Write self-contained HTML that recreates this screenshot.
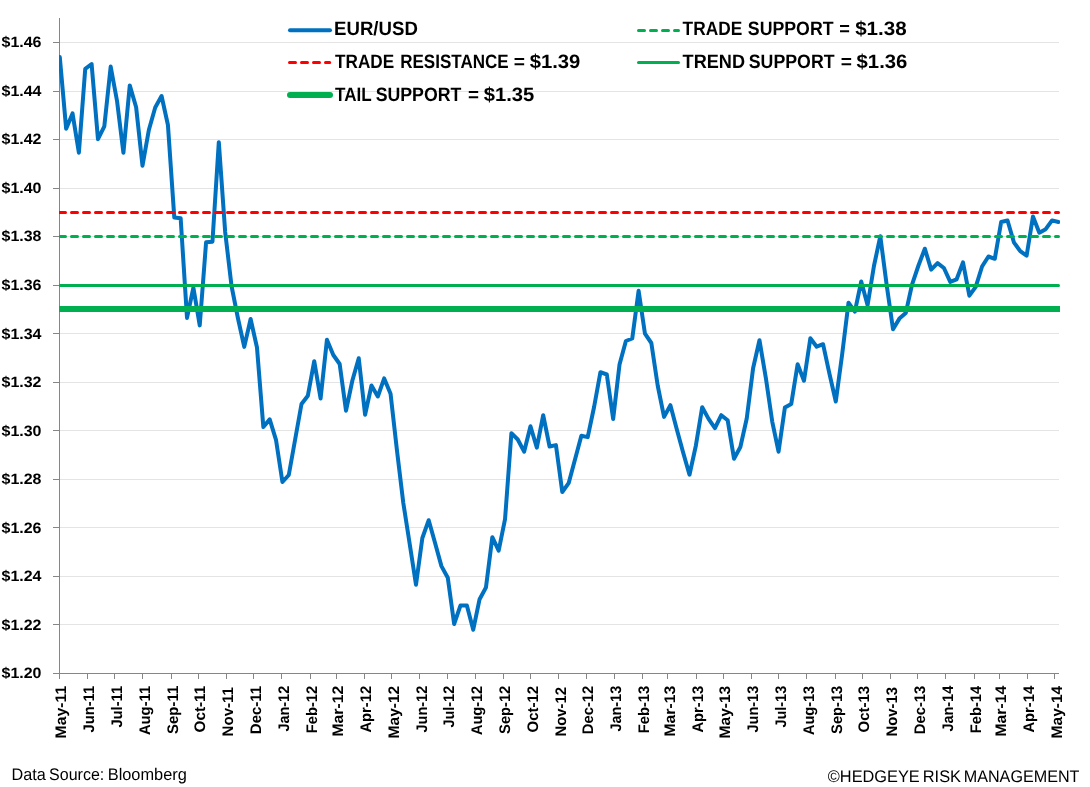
<!DOCTYPE html>
<html lang="en"><head><meta charset="utf-8"><title>EUR/USD</title>
<style>html,body{margin:0;padding:0;background:#fff}body{width:1090px;height:787px;overflow:hidden}svg{display:block}text{font-family:"Liberation Sans",Arial,sans-serif;fill:#000}.b{font-weight:bold}.ax{font-size:15px;font-weight:bold;text-rendering:geometricPrecision}.xl{font-size:15.3px;font-weight:bold;text-rendering:geometricPrecision}.lg{font-size:19.4px;font-weight:bold;text-rendering:geometricPrecision}.ft{font-size:16.8px;text-rendering:geometricPrecision}</style></head><body>
<svg width="1090" height="787" viewBox="0 0 1090 787">
<rect width="1090" height="787" fill="#fff"/>
<g stroke="#e4e4e4" stroke-width="1" shape-rendering="crispEdges">
<line x1="60" x2="1059" y1="624.5" y2="624.5"/>
<line x1="60" x2="1059" y1="576.5" y2="576.5"/>
<line x1="60" x2="1059" y1="527.5" y2="527.5"/>
<line x1="60" x2="1059" y1="479.5" y2="479.5"/>
<line x1="60" x2="1059" y1="430.5" y2="430.5"/>
<line x1="60" x2="1059" y1="382.5" y2="382.5"/>
<line x1="60" x2="1059" y1="333.5" y2="333.5"/>
<line x1="60" x2="1059" y1="285.5" y2="285.5"/>
<line x1="60" x2="1059" y1="236.5" y2="236.5"/>
<line x1="60" x2="1059" y1="188.5" y2="188.5"/>
<line x1="60" x2="1059" y1="139.5" y2="139.5"/>
<line x1="60" x2="1059" y1="91.5" y2="91.5"/>
<line x1="60" x2="1059" y1="42.5" y2="42.5"/>
</g>
<g stroke="#868686" stroke-width="1" shape-rendering="crispEdges">
<line x1="59.5" x2="59.5" y1="18" y2="674"/>
<line x1="53" x2="1059" y1="673.5" y2="673.5"/>
<line x1="53" x2="60" y1="624.5" y2="624.5"/>
<line x1="53" x2="60" y1="576.5" y2="576.5"/>
<line x1="53" x2="60" y1="527.5" y2="527.5"/>
<line x1="53" x2="60" y1="479.5" y2="479.5"/>
<line x1="53" x2="60" y1="430.5" y2="430.5"/>
<line x1="53" x2="60" y1="382.5" y2="382.5"/>
<line x1="53" x2="60" y1="333.5" y2="333.5"/>
<line x1="53" x2="60" y1="285.5" y2="285.5"/>
<line x1="53" x2="60" y1="236.5" y2="236.5"/>
<line x1="53" x2="60" y1="188.5" y2="188.5"/>
<line x1="53" x2="60" y1="139.5" y2="139.5"/>
<line x1="53" x2="60" y1="91.5" y2="91.5"/>
<line x1="53" x2="60" y1="42.5" y2="42.5"/>
<line x1="59.5" x2="59.5" y1="673" y2="679"/>
<line x1="87.5" x2="87.5" y1="673" y2="679"/>
<line x1="114.5" x2="114.5" y1="673" y2="679"/>
<line x1="142.5" x2="142.5" y1="673" y2="679"/>
<line x1="171.5" x2="171.5" y1="673" y2="679"/>
<line x1="198.5" x2="198.5" y1="673" y2="679"/>
<line x1="226.5" x2="226.5" y1="673" y2="679"/>
<line x1="253.5" x2="253.5" y1="673" y2="679"/>
<line x1="281.5" x2="281.5" y1="673" y2="679"/>
<line x1="310.5" x2="310.5" y1="673" y2="679"/>
<line x1="336.5" x2="336.5" y1="673" y2="679"/>
<line x1="364.5" x2="364.5" y1="673" y2="679"/>
<line x1="391.5" x2="391.5" y1="673" y2="679"/>
<line x1="419.5" x2="419.5" y1="673" y2="679"/>
<line x1="447.5" x2="447.5" y1="673" y2="679"/>
<line x1="475.5" x2="475.5" y1="673" y2="679"/>
<line x1="503.5" x2="503.5" y1="673" y2="679"/>
<line x1="530.5" x2="530.5" y1="673" y2="679"/>
<line x1="558.5" x2="558.5" y1="673" y2="679"/>
<line x1="586.5" x2="586.5" y1="673" y2="679"/>
<line x1="614.5" x2="614.5" y1="673" y2="679"/>
<line x1="642.5" x2="642.5" y1="673" y2="679"/>
<line x1="667.5" x2="667.5" y1="673" y2="679"/>
<line x1="696.5" x2="696.5" y1="673" y2="679"/>
<line x1="723.5" x2="723.5" y1="673" y2="679"/>
<line x1="751.5" x2="751.5" y1="673" y2="679"/>
<line x1="778.5" x2="778.5" y1="673" y2="679"/>
<line x1="806.5" x2="806.5" y1="673" y2="679"/>
<line x1="835.5" x2="835.5" y1="673" y2="679"/>
<line x1="862.5" x2="862.5" y1="673" y2="679"/>
<line x1="890.5" x2="890.5" y1="673" y2="679"/>
<line x1="917.5" x2="917.5" y1="673" y2="679"/>
<line x1="945.5" x2="945.5" y1="673" y2="679"/>
<line x1="974.5" x2="974.5" y1="673" y2="679"/>
<line x1="999.5" x2="999.5" y1="673" y2="679"/>
<line x1="1027.5" x2="1027.5" y1="673" y2="679"/>
<line x1="1054.5" x2="1054.5" y1="673" y2="679"/>
</g>
<defs><clipPath id="pc"><rect x="59" y="10" width="1001" height="670"/></clipPath></defs>
<polyline clip-path="url(#pc)" points="59.80,57.10 66.16,128.70 72.52,113.40 78.88,152.70 85.24,68.80 91.60,64.00 97.96,139.20 104.32,126.30 110.68,66.60 117.04,101.00 123.41,152.70 129.77,85.40 136.13,107.30 142.49,165.70 148.85,130.00 155.21,107.50 161.57,96.00 167.93,125.00 174.29,217.50 180.65,218.20 187.01,317.90 193.37,287.70 199.73,325.40 206.09,242.30 212.45,241.70 218.81,142.20 225.17,232.00 231.53,286.00 237.89,318.00 244.25,346.90 250.62,319.00 256.98,347.50 263.34,427.00 269.70,419.40 276.06,440.20 282.42,482.00 288.78,475.00 295.14,439.50 301.50,404.00 307.86,395.70 314.22,361.20 320.58,398.50 326.94,339.80 333.30,355.00 339.66,364.00 346.02,410.70 352.38,380.50 358.74,358.20 365.10,414.70 371.46,385.50 377.83,396.50 384.19,378.40 390.55,393.70 396.91,450.00 403.27,502.70 409.63,543.50 415.99,584.70 422.35,538.00 428.71,520.20 435.07,543.00 441.43,566.10 447.79,577.80 454.15,624.00 460.51,605.40 466.87,605.40 473.23,629.70 479.59,599.20 485.95,587.50 492.31,537.20 498.68,550.70 505.04,519.20 511.40,433.20 517.76,439.50 524.12,451.70 530.48,426.20 536.84,447.70 543.20,415.20 549.56,446.50 555.92,445.10 562.28,492.00 568.64,483.20 575.00,459.50 581.36,435.70 587.72,437.10 594.08,407.00 600.44,372.20 606.80,374.50 613.16,418.90 619.52,364.60 625.89,341.00 632.25,338.50 638.61,290.70 644.97,333.70 651.33,343.00 657.69,385.50 664.05,416.90 670.41,405.20 676.77,429.20 683.13,452.60 689.49,474.70 695.85,445.70 702.21,407.20 708.57,418.90 714.93,428.10 721.29,415.20 727.65,420.20 734.01,458.70 740.37,447.00 746.74,418.50 753.10,368.20 759.46,340.20 765.82,377.80 772.18,421.30 778.54,451.70 784.90,407.50 791.26,403.90 797.62,364.20 803.98,380.70 810.34,338.20 816.70,346.70 823.06,344.20 829.42,373.70 835.78,401.50 842.14,354.40 848.50,302.70 854.86,311.70 861.22,281.50 867.58,305.20 873.95,266.00 880.31,236.20 886.67,285.00 893.03,329.20 899.39,318.60 905.75,313.10 912.11,284.30 918.47,265.50 924.83,248.70 931.19,269.70 937.55,263.20 943.91,268.00 950.27,281.90 956.63,279.30 962.99,262.40 969.35,295.70 975.71,286.80 982.07,266.50 988.43,256.50 994.79,258.80 1001.16,222.00 1007.52,220.50 1013.88,242.30 1020.24,251.20 1026.60,255.70 1032.96,216.50 1039.32,232.70 1045.68,229.20 1052.04,220.40 1058.40,222.00" fill="none" stroke="#0070c0" stroke-width="4" stroke-linejoin="round" stroke-linecap="round"/>
<g clip-path="url(#pc)">
<line x1="59.5" x2="1058.5" y1="236.45" y2="236.45" stroke="#00b050" stroke-width="3" stroke-dasharray="6 6" stroke-linecap="round"/>
<line x1="59.5" x2="1058.5" y1="212.6" y2="212.6" stroke="#ff0000" stroke-width="3" stroke-dasharray="6 6" stroke-linecap="round"/>
<line x1="59.5" x2="1058.5" y1="285.4" y2="285.4" stroke="#00b050" stroke-width="3" stroke-linecap="round"/>
<line x1="59.5" x2="1059.0" y1="309.0" y2="309.0" stroke="#00b050" stroke-width="6" stroke-linecap="round"/>
</g>
<g class="ax">
<text x="1.5" y="678.35" textLength="40" lengthAdjust="spacingAndGlyphs">$1.20</text>
<text x="1.5" y="629.81" textLength="40" lengthAdjust="spacingAndGlyphs">$1.22</text>
<text x="1.5" y="581.27" textLength="40" lengthAdjust="spacingAndGlyphs">$1.24</text>
<text x="1.5" y="532.73" textLength="40" lengthAdjust="spacingAndGlyphs">$1.26</text>
<text x="1.5" y="484.19" textLength="40" lengthAdjust="spacingAndGlyphs">$1.28</text>
<text x="1.5" y="435.65" textLength="40" lengthAdjust="spacingAndGlyphs">$1.30</text>
<text x="1.5" y="387.11" textLength="40" lengthAdjust="spacingAndGlyphs">$1.32</text>
<text x="1.5" y="338.57" textLength="40" lengthAdjust="spacingAndGlyphs">$1.34</text>
<text x="1.5" y="290.03" textLength="40" lengthAdjust="spacingAndGlyphs">$1.36</text>
<text x="1.5" y="241.49" textLength="40" lengthAdjust="spacingAndGlyphs">$1.38</text>
<text x="1.5" y="192.95" textLength="40" lengthAdjust="spacingAndGlyphs">$1.40</text>
<text x="1.5" y="144.41" textLength="40" lengthAdjust="spacingAndGlyphs">$1.42</text>
<text x="1.5" y="95.87" textLength="40" lengthAdjust="spacingAndGlyphs">$1.44</text>
<text x="1.5" y="47.33" textLength="40" lengthAdjust="spacingAndGlyphs">$1.46</text>
</g>
<g class="xl">
<text transform="translate(66.1,685.8) rotate(-90)" x="-52.6" y="0" textLength="52.6" lengthAdjust="spacingAndGlyphs">May-11</text>
<text transform="translate(94.1,685.8) rotate(-90)" x="-46.7" y="0" textLength="46.7" lengthAdjust="spacingAndGlyphs">Jun-11</text>
<text transform="translate(122.1,685.8) rotate(-90)" x="-41.8" y="0" textLength="41.8" lengthAdjust="spacingAndGlyphs">Jul-11</text>
<text transform="translate(150.1,685.8) rotate(-90)" x="-49.3" y="0" textLength="49.3" lengthAdjust="spacingAndGlyphs">Aug-11</text>
<text transform="translate(178.1,685.8) rotate(-90)" x="-48.1" y="0" textLength="48.1" lengthAdjust="spacingAndGlyphs">Sep-11</text>
<text transform="translate(205.1,685.8) rotate(-90)" x="-46.7" y="0" textLength="46.7" lengthAdjust="spacingAndGlyphs">Oct-11</text>
<text transform="translate(233.1,687.0) rotate(-90)" x="-49.4" y="0" textLength="49.4" lengthAdjust="spacingAndGlyphs">Nov-11</text>
<text transform="translate(261.1,685.8) rotate(-90)" x="-48.4" y="0" textLength="48.4" lengthAdjust="spacingAndGlyphs">Dec-11</text>
<text transform="translate(289.1,685.8) rotate(-90)" x="-45.8" y="0" textLength="45.8" lengthAdjust="spacingAndGlyphs">Jan-12</text>
<text transform="translate(317.1,685.8) rotate(-90)" x="-47.4" y="0" textLength="47.4" lengthAdjust="spacingAndGlyphs">Feb-12</text>
<text transform="translate(343.1,685.8) rotate(-90)" x="-50.8" y="0" textLength="50.8" lengthAdjust="spacingAndGlyphs">Mar-12</text>
<text transform="translate(371.1,685.8) rotate(-90)" x="-46.8" y="0" textLength="46.8" lengthAdjust="spacingAndGlyphs">Apr-12</text>
<text transform="translate(399.1,685.8) rotate(-90)" x="-52.6" y="0" textLength="52.6" lengthAdjust="spacingAndGlyphs">May-12</text>
<text transform="translate(427.1,685.8) rotate(-90)" x="-46.7" y="0" textLength="46.7" lengthAdjust="spacingAndGlyphs">Jun-12</text>
<text transform="translate(454.1,685.8) rotate(-90)" x="-41.8" y="0" textLength="41.8" lengthAdjust="spacingAndGlyphs">Jul-12</text>
<text transform="translate(482.1,685.8) rotate(-90)" x="-49.3" y="0" textLength="49.3" lengthAdjust="spacingAndGlyphs">Aug-12</text>
<text transform="translate(510.1,685.8) rotate(-90)" x="-48.1" y="0" textLength="48.1" lengthAdjust="spacingAndGlyphs">Sep-12</text>
<text transform="translate(538.1,685.8) rotate(-90)" x="-46.7" y="0" textLength="46.7" lengthAdjust="spacingAndGlyphs">Oct-12</text>
<text transform="translate(566.1,687.0) rotate(-90)" x="-49.4" y="0" textLength="49.4" lengthAdjust="spacingAndGlyphs">Nov-12</text>
<text transform="translate(593.1,685.8) rotate(-90)" x="-48.4" y="0" textLength="48.4" lengthAdjust="spacingAndGlyphs">Dec-12</text>
<text transform="translate(621.1,685.8) rotate(-90)" x="-45.8" y="0" textLength="45.8" lengthAdjust="spacingAndGlyphs">Jan-13</text>
<text transform="translate(649.1,685.8) rotate(-90)" x="-47.4" y="0" textLength="47.4" lengthAdjust="spacingAndGlyphs">Feb-13</text>
<text transform="translate(675.1,685.8) rotate(-90)" x="-50.8" y="0" textLength="50.8" lengthAdjust="spacingAndGlyphs">Mar-13</text>
<text transform="translate(703.1,685.8) rotate(-90)" x="-46.8" y="0" textLength="46.8" lengthAdjust="spacingAndGlyphs">Apr-13</text>
<text transform="translate(730.1,685.8) rotate(-90)" x="-52.6" y="0" textLength="52.6" lengthAdjust="spacingAndGlyphs">May-13</text>
<text transform="translate(758.1,685.8) rotate(-90)" x="-46.7" y="0" textLength="46.7" lengthAdjust="spacingAndGlyphs">Jun-13</text>
<text transform="translate(786.1,685.8) rotate(-90)" x="-41.8" y="0" textLength="41.8" lengthAdjust="spacingAndGlyphs">Jul-13</text>
<text transform="translate(814.1,685.8) rotate(-90)" x="-49.3" y="0" textLength="49.3" lengthAdjust="spacingAndGlyphs">Aug-13</text>
<text transform="translate(842.1,685.8) rotate(-90)" x="-48.1" y="0" textLength="48.1" lengthAdjust="spacingAndGlyphs">Sep-13</text>
<text transform="translate(869.1,685.8) rotate(-90)" x="-46.7" y="0" textLength="46.7" lengthAdjust="spacingAndGlyphs">Oct-13</text>
<text transform="translate(897.1,687.0) rotate(-90)" x="-49.4" y="0" textLength="49.4" lengthAdjust="spacingAndGlyphs">Nov-13</text>
<text transform="translate(925.1,685.8) rotate(-90)" x="-48.4" y="0" textLength="48.4" lengthAdjust="spacingAndGlyphs">Dec-13</text>
<text transform="translate(953.1,685.8) rotate(-90)" x="-45.8" y="0" textLength="45.8" lengthAdjust="spacingAndGlyphs">Jan-14</text>
<text transform="translate(981.1,685.8) rotate(-90)" x="-47.4" y="0" textLength="47.4" lengthAdjust="spacingAndGlyphs">Feb-14</text>
<text transform="translate(1006.1,685.8) rotate(-90)" x="-50.8" y="0" textLength="50.8" lengthAdjust="spacingAndGlyphs">Mar-14</text>
<text transform="translate(1034.1,685.8) rotate(-90)" x="-46.8" y="0" textLength="46.8" lengthAdjust="spacingAndGlyphs">Apr-14</text>
<text transform="translate(1062.1,685.8) rotate(-90)" x="-52.6" y="0" textLength="52.6" lengthAdjust="spacingAndGlyphs">May-14</text>
</g>
<line x1="290" x2="330" y1="30.2" y2="30.2" stroke="#0070c0" stroke-width="4" stroke-linecap="round"/>
<text class="lg" y="35.4"><tspan x="334.04" textLength="83.82" lengthAdjust="spacingAndGlyphs">EUR/USD</tspan></text>
<line x1="289.5" x2="329.7" y1="62.6" y2="62.6" stroke="#ff0000" stroke-width="3" stroke-linecap="round" stroke-dasharray="6 6"/>
<text class="lg" y="68.3"><tspan x="335.09" textLength="59.15" lengthAdjust="spacingAndGlyphs">TRADE</tspan> <tspan x="400.24" textLength="108.41" lengthAdjust="spacingAndGlyphs">RESISTANCE</tspan> <tspan x="513.8" textLength="11.19" lengthAdjust="spacingAndGlyphs">=</tspan> <tspan x="529.68" textLength="50.73" lengthAdjust="spacingAndGlyphs">$1.39</tspan></text>
<line x1="290" x2="330" y1="95" y2="95" stroke="#00b050" stroke-width="6" stroke-linecap="round"/>
<text class="lg" y="101.3"><tspan x="335.1" textLength="36.32" lengthAdjust="spacingAndGlyphs">TAIL</tspan> <tspan x="375.66" textLength="85.67" lengthAdjust="spacingAndGlyphs">SUPPORT</tspan> <tspan x="468.11" textLength="10.95" lengthAdjust="spacingAndGlyphs">=</tspan> <tspan x="483.78" textLength="50.57" lengthAdjust="spacingAndGlyphs">$1.35</tspan></text>
<line x1="638.5" x2="678.5" y1="30.4" y2="30.4" stroke="#00b050" stroke-width="3" stroke-linecap="round" stroke-dasharray="6 6"/>
<text class="lg" y="35.4"><tspan x="682.59" textLength="59.61" lengthAdjust="spacingAndGlyphs">TRADE</tspan> <tspan x="747.86" textLength="85.67" lengthAdjust="spacingAndGlyphs">SUPPORT</tspan> <tspan x="839.24" textLength="10.63" lengthAdjust="spacingAndGlyphs">=</tspan> <tspan x="855.18" textLength="51.46" lengthAdjust="spacingAndGlyphs">$1.38</tspan></text>
<line x1="638.5" x2="678.5" y1="62.6" y2="62.6" stroke="#00b050" stroke-width="3" stroke-linecap="round"/>
<text class="lg" y="68.3"><tspan x="682.59" textLength="62.4" lengthAdjust="spacingAndGlyphs">TREND</tspan> <tspan x="748.76" textLength="85.8" lengthAdjust="spacingAndGlyphs">SUPPORT</tspan> <tspan x="840.7" textLength="11.19" lengthAdjust="spacingAndGlyphs">=</tspan> <tspan x="856.58" textLength="50.75" lengthAdjust="spacingAndGlyphs">$1.36</tspan></text>
<text class="ft" y="779.8"><tspan x="11.57" textLength="34.32" lengthAdjust="spacingAndGlyphs">Data</tspan> <tspan x="49.12" textLength="55.19" lengthAdjust="spacingAndGlyphs">Source:</tspan> <tspan x="107.72" textLength="79.09" lengthAdjust="spacingAndGlyphs">Bloomberg</tspan></text>
<text class="ft" y="781.9"><tspan x="827.84" textLength="91.95" lengthAdjust="spacingAndGlyphs">©HEDGEYE</tspan> <tspan x="922.73" textLength="38.32" lengthAdjust="spacingAndGlyphs">RISK</tspan> <tspan x="963.75" textLength="115.7" lengthAdjust="spacingAndGlyphs">MANAGEMENT</tspan></text>
</svg></body></html>
